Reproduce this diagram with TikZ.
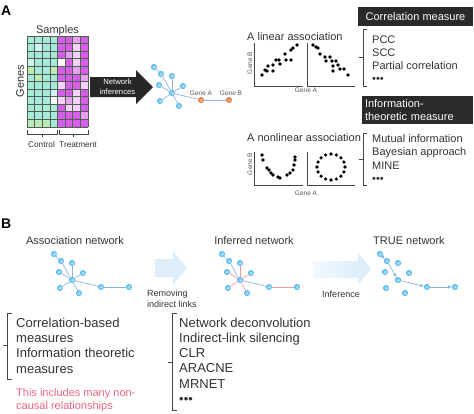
\documentclass[tikz,border=0pt]{standalone}
\usepackage{fontspec}
\setmainfont{Liberation Sans}
\usepackage{xcolor}
\usetikzlibrary{arrows.meta, positioning, calc}
\definecolor{textgray}{HTML}{333333}
\definecolor{labelgray}{HTML}{555555}
\definecolor{axisgray}{HTML}{444444}
\definecolor{boxblack}{HTML}{2A2A2A}
\definecolor{nodeblue}{HTML}{5CC3EF}
\definecolor{nodeedge}{HTML}{3D9FD8}
\definecolor{geneorange}{HTML}{F27A3A}
\definecolor{edgeblue}{HTML}{8AB4E6}
\definecolor{edgepink}{HTML}{F29A9A}
\definecolor{arrowlight}{HTML}{DDEEFA}
\definecolor{arrowdark}{HTML}{262626}
\definecolor{notepink}{HTML}{EC6482}
\definecolor{hmc}{HTML}{A8EAD9}
\definecolor{hml}{HTML}{CFF5EC}
\definecolor{hmg}{HTML}{BDE9B4}
\definecolor{hmm}{HTML}{D65EE6}
\definecolor{hmp}{HTML}{E7A2EF}
\definecolor{hmq}{HTML}{F4D3F6}
\definecolor{hmw}{HTML}{FFFFFF}
\definecolor{hmgrid}{HTML}{4F5F55}

% one small gene network: prefix, hub x, hub y, style of the two outer nodes
\newcommand{\genenet}[4]{%
  \begin{scope}[shift={(#2,#3)}]
    \node[netnode] (#1h) at (0,0) {};
    \node[netnode] (#11) at (-18,-26) {};
    \node[netnode] (#12) at (-11,-19) {};
    \node[netnode] (#13) at (0,-17) {};
    \node[netnode] (#14) at (-13,-8) {};
    \node[netnode] (#15) at (11,-7) {};
    \node[netnode] (#16) at (-12,8) {};
    \node[netnode] (#17) at (7,13) {};
    \node[#4] (#18) at (29,7) {};
    \node[#4] (#19) at (57,7) {};
  \end{scope}}

\begin{document}
\begin{tikzpicture}[x=1pt, y=-1pt,
    txt/.style={font=\fontsize{11}{13}\selectfont, text=textgray, inner sep=0pt},
    bigtxt/.style={font=\fontsize{13}{15}\selectfont, text=textgray, inner sep=0pt},
    smalltxt/.style={font=\fontsize{9}{11}\selectfont, text=textgray, inner sep=0pt},
    tinytxt/.style={font=\fontsize{6.5}{7}\selectfont, text=labelgray, inner sep=0pt},
    panel/.style={font=\fontsize{14}{16}\selectfont\bfseries, text=black, inner sep=0pt},
    netnode/.style={circle, inner sep=0pt, minimum size=5.5pt, shade, inner color=nodeblue!45!white, outer color=nodeblue, draw=nodeedge, line width=0.3pt},
    genenode/.style={circle, inner sep=0pt, minimum size=5.5pt, shade, inner color=geneorange!50!white, outer color=geneorange, draw=geneorange!80!black, line width=0.3pt},
    netedge/.style={draw=edgeblue, line width=0.7pt},
    cutedge/.style={draw=edgepink, line width=0.7pt},
    diredge/.style={netedge, -{Latex[length=4pt, width=3.5pt]}},
    axisline/.style={draw=axisgray, line width=0.6pt},
    bracketline/.style={draw=axisgray, line width=0.5pt},
    blackbox/.style={fill=boxblack, text=white, font=\fontsize{11}{13}\selectfont, inner sep=0pt}]

  \useasboundingbox (0,0) rectangle (474,413);

  % ---------------- Panel A ----------------
  \node[panel, anchor=base west] (panA) at (1,15) {A};

  % Expression matrix
  \foreach \row [count=\j from 0] in {
      {hmc,hmc,hmc,hmc,hmm,hmm,hmp,hmm},
      {hmc,hml,hmc,hmc,hmm,hmm,hmq,hmm},
      {hmc,hmc,hmc,hmc,hmm,hmp,hmq,hmm},
      {hml,hmc,hmc,hmc,hmw,hmm,hmq,hmm},
      {hmg,hmc,hmc,hmg,hmm,hmm,hmp,hmm},
      {hmc,hmg,hmc,hmc,hmm,hmm,hmm,hmp},
      {hmc,hmc,hmc,hmc,hmq,hmm,hmm,hmq},
      {hmc,hmc,hmc,hml,hmm,hmm,hmq,hmm},
      {hmc,hmc,hmc,hmw,hmq,hmp,hmq,hmm},
      {hmc,hmc,hmc,hmc,hmm,hmq,hmq,hmm},
      {hmc,hmc,hmc,hmc,hmm,hmm,hmm,hmp},
      {hmg,hmg,hmg,hmc,hmm,hmm,hmm,hmm}} {
    \foreach \c [count=\i from 0] in \row {
      \fill[\c] ({27+\i*7.625},{36+\j*7.583}) rectangle ++(7.625,7.583);
    }
  }
  \foreach \i in {0,...,8}
    \draw[hmgrid, line width=0.7pt] ({27+\i*7.625},36) -- ++(0,91);
  \foreach \j in {0,...,12}
    \draw[hmgrid, line width=0.7pt] (27,{36+\j*7.583}) -- ++(61,0);

  \node[txt, anchor=base] (samples) at (57.5,33) {Samples};
  \node[txt, rotate=90] (genes) at (20,81) {Genes};

  % Sample groups
  \draw[bracketline] (27,130) -- (27,134) -- (57,134) -- (57,130);
  \draw[bracketline] (42,134) -- (42,137);
  \draw[bracketline] (59,130) -- (59,134) -- (88,134) -- (88,130);
  \draw[bracketline] (73,134) -- (73,137);
  \node[font=\fontsize{8.3}{10}\selectfont, text=textgray, inner sep=0pt, anchor=base] (ctrl) at (41.5,147) {Control};
  \node[font=\fontsize{8.3}{10}\selectfont, text=textgray, inner sep=0pt, anchor=base] (treat) at (78,147) {Treatment};

  % Big arrow
  \fill[arrowdark] (90,77) -- (136,77) -- (136,70) -- (153,87) -- (136,104) -- (136,97) -- (90,97) -- cycle;
  \node[font=\fontsize{7.7}{10}\selectfont, text=white, align=center, inner sep=0pt] (infer) at (117.5,86.5) {Network\\inferences};

  % Network with gene pair
  \genenet{a}{172}{93}{genenode}
  \draw[netedge] (a1) -- (a2) -- (ah);
  \foreach \k in {3,...,8}
    \draw[netedge] (ah) -- (a\k);
  \draw[netedge] (a8) -- (a9);
  \node[tinytxt, above=1.2pt of a8] (genea) {Gene A};
  \node[tinytxt, above=1.2pt of a9, xshift=2pt] (geneb) {Gene B};

  % Linear association
  \node[txt, anchor=base west] (linear) at (247,40) {A linear association};
  \draw[axisline] (254,43) -- (254,86) -- (303,86);
  \draw[axisline] (307,43) -- (307,86) -- (355,86);
  \foreach \p in {(262,75),(265,70),(268,66),(267,71),(273,71),(273,65),(276,60),(279,60),(280,64),(285,54),(286,60),(291,60),(291,50),(293,48),(297,45)}
    \fill \p circle (1.8pt);
  \foreach \p in {(313,45),(316,47),(318,48),(320,54),(325,57),(330,57),(326,61),(332,61),(336,61),(333,66),(338,65),(340,69),(333,71),(344,69),(348,75)}
    \fill \p circle (1.8pt);
  \node[tinytxt, rotate=90] (geneb1) at (250,63) {Gene B};
  \node[tinytxt, anchor=base] (genea1) at (306,92) {Gene A};

  % Correlation measures
  \node[blackbox, minimum width=115pt, minimum height=19pt] (corrbox) at (415.5,16.5) {Correlation measure};
  \draw[bracketline] (367,29) -- (363,29) -- (363,86) -- (367,86);
  \draw[bracketline] (363,57) -- (359,57);
  \foreach \t [count=\k from 0] in {PCC, SCC, Partial correlation, •••}
    \node[txt, anchor=base west] (corr\k) at (372,{43+\k*13}) {\t};

  % Nonlinear association
  \node[txt, anchor=base west] (nonlinear) at (247,141) {A nonlinear association};
  \draw[axisline] (254,152) -- (254,185) -- (303,185);
  \draw[axisline] (307,152) -- (307,185) -- (355,185);
  \foreach \p in {(262,155),(263,160),(267,168),(269,170),(271,173),(273,175),(278,177),(280,178),(287,175),(290,173),(293,170),(294,165),(295,157),(295,160)}
    \fill \p circle (1.8pt);
  \foreach \a in {0,22.5,...,337.5}
    \fill ({331+14*cos(\a)},{167+13*sin(\a)}) circle (1.8pt);
  \node[tinytxt, rotate=90] (geneb2) at (250,164) {Gene B};
  \node[tinytxt, anchor=base] (genea2) at (306,195) {Gene A};

  % Information-theoretic measures
  \node[blackbox, minimum width=111pt, minimum height=28pt, text width=105pt, align=left] (infobox) at (417.5,110) {Information-\\theoretic measure};
  \draw[bracketline] (367,133) -- (363,133) -- (363,185) -- (367,185);
  \draw[bracketline] (363,159) -- (359,159);
  \foreach \t [count=\k from 0] in {Mutual information, Bayesian approach, MINE, •••}
    \node[txt, anchor=base west] (info\k) at (372,{142+\k*13.5}) {\t};

  % ---------------- Panel B ----------------
  \node[panel, anchor=base west] (panB) at (1,228) {B};

  % Association network
  \node[txt, anchor=base] (assoc) at (75,244) {Association network};
  \genenet{s}{72}{280}{netnode}
  \draw[netedge] (s1) -- (s2) -- (sh);
  \foreach \k in {3,...,8}
    \draw[netedge] (sh) -- (s\k);
  \draw[netedge] (s8) -- (s9);

  % Removing indirect links
  \fill[arrowlight] (155,259) -- (173,259) -- (173,251) -- (187,268) -- (173,285) -- (173,277) -- (155,277) -- cycle;
  \node[smalltxt, anchor=base west] (remove1) at (147,296) {Removing};
  \node[smalltxt, anchor=base west] (remove2) at (147,307) {indirect links};

  % Inferred network
  \node[txt, anchor=base] (inferred) at (254,244) {Inferred network};
  \genenet{f}{240}{280}{netnode}
  \draw[netedge] (f1) -- (f2) -- (fh);
  \draw[netedge] (fh) -- (f8);
  \foreach \k in {3,...,7}
    \draw[cutedge] (fh) -- (f\k);
  \draw[cutedge] (f8) -- (f9);

  % Inference
  \shade[left color=arrowlight!35, right color=arrowlight] (313,261) rectangle (358,277);
  \fill[arrowlight] (358,253) -- (371,269) -- (358,285) -- cycle;
  \node[smalltxt, anchor=base] (inference) at (341,297) {Inference};

  % TRUE network
  \node[txt, anchor=base] (truenet) at (409,244) {TRUE network};
  \genenet{t}{398}{280}{netnode}
  \draw[diredge] (t1) -- (t2);
  \draw[diredge] (t2) -- (th);
  \draw[diredge] (th) -- (t8);
  \draw[diredge] (t8) -- (t9);

  % Association measures
  \draw[bracketline] (12,313) -- (7,313) -- (7,379) -- (12,379);
  \draw[bracketline] (7,345) -- (3,345);
  \foreach \t [count=\k from 0] in {Correlation-based, measures, Information theoretic, measures}
    \node[bigtxt, anchor=base west] (assm\k) at (16,{327+\k*15.4}) {\t};
  \node[txt, text=notepink, anchor=base west] (note1) at (16,396) {This includes many non-};
  \node[txt, text=notepink, anchor=base west] (note2) at (16,409) {causal relationships};

  % Indirect-link removal methods
  \draw[bracketline] (177,313) -- (172,313) -- (172,410) -- (177,410);
  \draw[bracketline] (172,362) -- (168,362);
  \foreach \t [count=\k from 0] in {Network deconvolution, Indirect-link silencing, CLR, ARACNE, MRNET, •••}
    \node[bigtxt, anchor=base west] (meth\k) at (179,{327+\k*15.3}) {\t};
\end{tikzpicture}
\end{document}
